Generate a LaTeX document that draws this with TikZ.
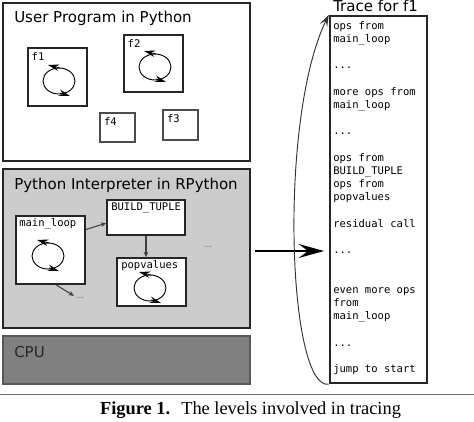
\documentclass[tikz,border=0pt]{standalone}
\usepackage{fontspec}
\setmainfont{DejaVu Sans}
\setmonofont{DejaVu Sans Mono}
\newfontfamily\capfont{Liberation Serif}
\usetikzlibrary{arrows.meta, fit}
\definecolor{interpgray}{gray}{0.8}
\definecolor{cpugray}{gray}{0.5}
\tikzset{
	layerbox/.style={draw=black!85, line width=1.9pt, inner sep=0pt},
	funcbox/.style={draw=black!85, line width=1.3pt, fill=white, inner sep=0pt},
	thinbox/.style={draw=black!70, line width=0.8pt, inner sep=0pt},
	layertext/.style={anchor=west, font=\fontsize{11.25}{13}\selectfont, inner sep=0pt},
	functext/.style={anchor=west, font=\fontsize{7.9}{10}\ttfamily, inner sep=0pt},
	dotstext/.style={font=\fontsize{7}{8}\selectfont, text=black!55, inner sep=1pt},
	calltip/.style={-{Stealth[length=4pt, width=3.5pt]}, line width=0.8pt, black!75},
	looptip/.style={-{Stealth[length=8.5pt, width=5pt, inset=3pt]}, line width=0.6pt}
}
\newcommand{\funcloop}[2]{
  \draw[line width=0.7pt] (#1,#2) ellipse[x radius=16, y radius=13];
  \draw[looptip] (#1+1,#2-13) -- (#1-11,#2-16);
  \draw[looptip] (#1+1,#2+12) -- (#1+11,#2+15);
}
\begin{document}
\begin{tikzpicture}[x=0.75pt, y=-0.75pt]
  \useasboundingbox (0,0) rectangle (474,421);
  % user program level
  \node[layerbox, fit={(3,3) (250,161)}] (user) {};
  \node[layertext] at (14,18) {User Program in Python};
  \foreach \n/\xa/\ya/\xb/\yb in {f1/28/48/87/106, f2/124/35/183/92}
    \node[funcbox, fit={(\xa,\ya) (\xb,\yb)}] (\n) {};
  \foreach \n/\xa/\ya/\xb/\yb in {f4/100/113/135/142, f3/163/110/198/140}
    \node[thinbox, fit={(\xa,\ya) (\xb,\yb)}] (\n) {};
  \foreach \n in {f1, f2, f3, f4}
    \node[functext] at ([xshift=3.2pt, yshift=-6.8pt]\n.north west) {\n};
  \funcloop{59}{81}
  \funcloop{155}{67}
  % interpreter level
  \node[layerbox, fill=interpgray, fit={(3,169) (250,328)}] (interp) {};
  \node[layertext] at (14,185) {Python Interpreter in RPython};
  \node[funcbox, fit={(16,216) (85,284)}] (main_loop) {};
  \node[funcbox, fit={(107,200) (185,235)}] (build_tuple) {};
  \node[funcbox, fit={(117,258) (186,306)}] (popvalues) {};
  \node[functext] at (19,224) {main\_loop};
  \node[functext] at (111,208) {BUILD\_TUPLE};
  \node[functext] at (121,266) {popvalues};
  \funcloop{48}{256}
  \funcloop{150}{288}
  \node[dotstext] (dots_a) at (80,298) {...};
  \node[dotstext] (dots_b) at (208,247) {...};
  \draw[calltip] (main_loop.30) -- (build_tuple.188);
  \draw[calltip] (build_tuple) -- (popvalues.north -| build_tuple);
  \draw[calltip] (main_loop.-81) -- (dots_a.north west);
  % cpu level
  \node[draw=black!65, line width=0.8pt, fill=cpugray, inner sep=0pt, fit={(3,336) (250,384)}] (cpu) {};
  \node[layertext, text=black!85] at (14,352) {CPU};
  % trace
  \node[layerbox, fit={(330,16) (427,383)}] (trace) {};
  \node[layertext, anchor=south west] at (333,12) {Trace for f1};
  \node[anchor=north west, align=left, inner sep=0pt, font=\fontsize{7.9}{9.9}\ttfamily] (trace_text) at (333,21) {%
    ops from\\main\_loop\\[9.9pt]...\\[9.9pt]more ops from\\main\_loop\\[9.9pt]...\\[9.9pt]%
    ops from\\BUILD\_TUPLE\\ops from\\popvalues\\[9.9pt]residual call\\[9.9pt]...\\[19.8pt]%
    even more ops\\from\\main\_loop\\[9.9pt]...\\[9.9pt]jump to start};
  \coordinate (interp_out) at (255,251);
  \coordinate (trace_in) at (324,251);
  \draw[line width=1pt, -{Stealth[length=19pt, width=10.5pt, inset=7pt]}] (interp_out) -- (trace_in);
  \draw[line width=0.7pt, black!80, -{Stealth[length=9pt, width=6pt, inset=4pt]}]
    (trace.south west) .. controls (288,390) and (278,120) .. (trace.north west);
  % caption
  \coordinate (rule_l) at (0,394);
  \coordinate (rule_r) at (474,394);
  \draw[black!55, line width=0.7pt] (rule_l) -- (rule_r);
  \node[font=\capfont\fontsize{13.8}{15}\selectfont, inner sep=0pt] (caption) at (250.5,410) {\textbf{Figure 1.}\hspace{0.6em}The levels involved in tracing};
\end{tikzpicture}
\end{document}
